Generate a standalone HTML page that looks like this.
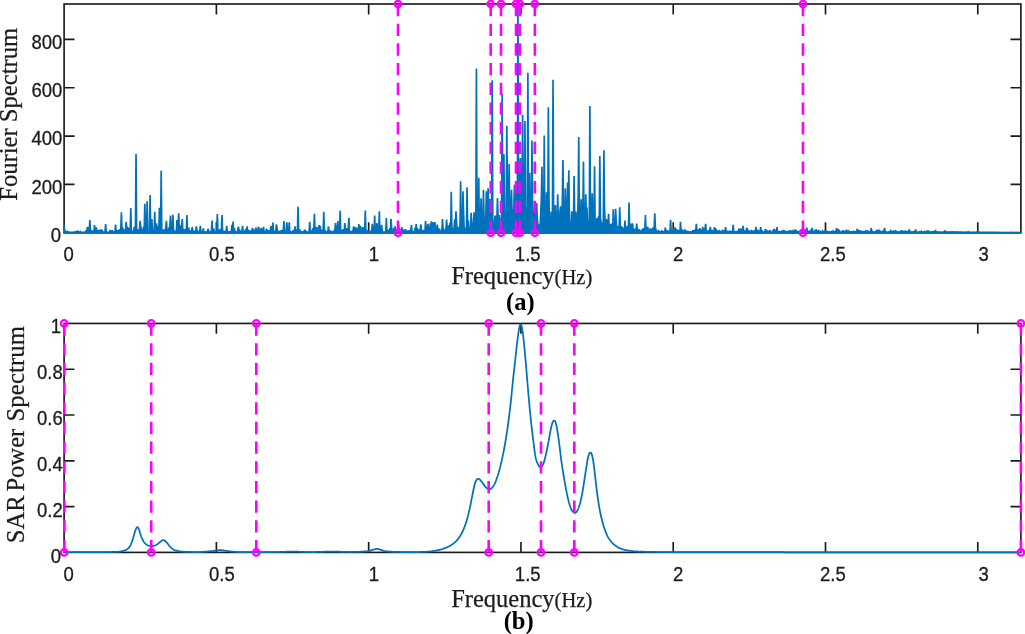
<!DOCTYPE html>
<html lang="en"><head><meta charset="utf-8"><title>Fourier and SAR Power Spectrum</title>
<style>html,body{margin:0;padding:0;background:#fff;overflow:hidden}svg{display:block}</style></head>
<body>
<svg width="1025" height="634" viewBox="0 0 1025 634">
<rect x="0" y="0" width="1025" height="634" fill="#fff"/>
<rect x="64.1" y="4.0" width="956.80" height="228.75" fill="none" stroke="#1b1b1b" stroke-width="1.65"/>
<path d="M216.38,232.75v-10.4M216.38,4.0v10.4M368.66,232.75v-10.4M368.66,4.0v10.4M520.94,232.75v-10.4M520.94,4.0v10.4M673.22,232.75v-10.4M673.22,4.0v10.4M825.50,232.75v-10.4M825.50,4.0v10.4M977.78,232.75v-10.4M977.78,4.0v10.4M64.1,184.42h10.4M1020.9,184.42h-10.4M64.1,136.08h10.4M1020.9,136.08h-10.4M64.1,87.75h10.4M1020.9,87.75h-10.4M64.1,39.41h10.4M1020.9,39.41h-10.4" stroke="#1b1b1b" stroke-width="1.65" fill="none"/>
<polygon points="64.1,232.75 64.10,224.75 64.68,231.92 65.27,232.67 65.85,231.95 66.44,232.69 67.02,230.73 67.61,232.70 68.19,232.54 68.78,232.05 69.36,232.18 69.95,232.66 70.53,232.67 71.12,232.63 71.70,232.62 72.29,232.57 72.87,232.67 73.46,232.48 74.04,232.63 74.63,232.66 75.21,231.74 75.80,232.21 76.38,232.21 76.97,231.49 77.55,232.62 78.14,230.84 78.72,231.92 79.31,232.63 79.89,232.58 80.48,231.81 81.06,232.66 81.65,232.63 82.23,232.54 82.81,232.57 83.40,232.47 83.98,232.63 84.57,232.50 85.15,232.58 85.74,231.37 86.32,232.14 86.91,229.91 87.49,226.95 88.08,232.28 88.66,232.19 89.25,231.41 89.83,220.05 90.42,232.53 91.00,232.37 91.59,229.82 92.17,232.54 92.76,231.00 93.34,232.37 93.93,232.55 94.51,224.95 95.10,232.39 95.68,232.20 96.27,227.42 96.85,230.42 97.44,232.29 98.02,230.30 98.61,232.36 99.19,231.24 99.78,232.03 100.36,230.05 100.94,230.04 101.53,232.53 102.11,229.67 102.70,232.31 103.28,232.30 103.87,232.41 104.45,232.23 105.04,232.18 105.62,223.95 106.21,232.44 106.79,232.13 107.38,232.36 107.96,232.34 108.55,232.49 109.13,232.46 109.72,232.02 110.30,230.03 110.89,232.49 111.47,232.13 112.06,230.41 112.64,231.61 113.23,232.20 113.81,232.14 114.40,232.29 114.98,231.21 115.57,224.68 116.15,232.22 116.74,231.62 117.32,230.94 117.91,231.28 118.49,232.34 119.08,229.55 119.66,231.00 120.24,232.21 120.83,227.67 121.41,212.25 122.00,231.78 122.58,227.08 123.17,231.35 123.75,231.69 124.34,230.27 124.92,230.43 125.51,231.64 126.09,221.95 126.68,227.35 127.26,226.80 127.85,231.86 128.43,227.56 129.02,231.92 129.60,230.77 130.19,230.87 130.77,207.95 131.36,231.36 131.94,231.62 132.53,231.91 133.11,231.26 133.70,230.94 134.28,226.80 134.87,228.25 135.45,229.77 136.04,153.75 136.62,231.44 137.21,231.75 137.79,231.47 138.37,229.62 138.96,230.82 139.54,228.46 140.13,220.75 140.71,226.75 141.30,228.62 141.88,230.99 142.47,230.37 143.05,230.90 143.64,226.61 144.22,230.56 144.81,203.85 145.39,228.44 145.98,230.79 146.56,231.37 147.15,201.15 147.73,231.83 148.32,231.47 148.90,231.64 149.49,231.04 150.07,195.05 150.66,228.95 151.24,231.18 151.83,219.05 152.41,230.53 153.00,230.97 153.58,230.92 154.17,231.44 154.75,211.75 155.34,231.71 155.92,231.83 156.50,223.28 157.09,231.40 157.67,231.68 158.26,226.27 158.84,231.47 159.43,207.75 160.01,222.83 160.60,231.74 161.18,170.75 161.77,231.84 162.35,231.59 162.94,231.40 163.52,229.45 164.11,231.92 164.69,231.64 165.28,230.48 165.86,226.75 166.45,220.75 167.03,231.75 167.62,230.11 168.20,230.80 168.79,228.68 169.37,228.86 169.96,224.15 170.54,215.55 171.13,230.15 171.71,231.90 172.30,231.88 172.88,214.75 173.47,230.09 174.05,230.65 174.63,231.90 175.22,231.51 175.80,231.75 176.39,231.23 176.97,220.05 177.56,231.47 178.14,223.00 178.73,213.25 179.31,231.62 179.90,225.44 180.48,231.34 181.07,231.78 181.65,225.90 182.24,219.05 182.82,230.60 183.41,230.28 183.99,231.10 184.58,229.21 185.16,230.28 185.75,231.83 186.33,231.56 186.92,215.15 187.50,231.12 188.09,231.23 188.67,227.74 189.26,231.29 189.84,231.73 190.43,231.47 191.01,230.93 191.60,231.97 192.18,227.00 192.77,230.55 193.35,231.78 193.93,232.23 194.52,230.68 195.10,232.18 195.69,232.08 196.27,226.45 196.86,229.60 197.44,232.04 198.03,232.30 198.61,231.25 199.20,232.33 199.78,230.82 200.37,225.85 200.95,232.31 201.54,231.64 202.12,232.13 202.71,232.05 203.29,228.43 203.88,232.42 204.46,232.12 205.05,232.38 205.63,232.13 206.22,231.90 206.80,232.25 207.39,232.32 207.97,228.81 208.56,230.27 209.14,232.35 209.73,232.28 210.31,232.23 210.90,232.39 211.48,229.64 212.06,220.45 212.65,232.27 213.23,231.22 213.82,228.72 214.40,232.35 214.99,232.39 215.57,232.38 216.16,232.41 216.74,232.27 217.33,214.15 217.91,230.77 218.50,231.95 219.08,229.79 219.67,230.58 220.25,232.19 220.84,228.78 221.42,232.31 222.01,215.15 222.59,232.35 223.18,232.31 223.76,230.96 224.35,232.13 224.93,232.19 225.52,231.57 226.10,232.38 226.69,225.75 227.27,231.66 227.86,232.32 228.44,231.95 229.03,231.77 229.61,231.69 230.19,232.06 230.78,232.39 231.36,231.05 231.95,224.98 232.53,228.16 233.12,221.45 233.70,232.12 234.29,228.24 234.87,231.17 235.46,232.00 236.04,232.28 236.63,232.18 237.21,232.37 237.80,229.75 238.38,226.75 238.97,230.11 239.55,230.08 240.14,231.18 240.72,231.46 241.31,232.21 241.89,232.28 242.48,225.75 243.06,231.84 243.65,232.23 244.23,232.32 244.82,231.17 245.40,230.06 245.99,230.82 246.57,231.94 247.16,226.45 247.74,232.24 248.32,230.67 248.91,230.69 249.49,232.30 250.08,232.25 250.66,231.35 251.25,232.26 251.83,232.30 252.42,227.75 253.00,232.15 253.59,229.35 254.17,232.25 254.76,231.83 255.34,230.97 255.93,227.70 256.51,232.32 257.10,230.55 257.68,232.39 258.27,227.55 258.85,227.85 259.44,231.63 260.02,232.29 260.61,232.34 261.19,227.88 261.78,230.27 262.36,231.84 262.95,232.24 263.53,226.75 264.12,232.39 264.70,231.87 265.29,232.27 265.87,232.37 266.46,228.93 267.04,229.93 267.62,232.26 268.21,231.76 268.79,230.43 269.38,232.08 269.96,232.30 270.55,228.62 271.13,226.03 271.72,231.89 272.30,232.22 272.89,222.55 273.47,232.04 274.06,230.80 274.64,232.32 275.23,230.84 275.81,231.83 276.40,224.33 276.98,227.85 277.57,232.38 278.15,232.11 278.74,231.57 279.32,232.17 279.91,232.39 280.49,230.52 281.08,232.28 281.66,230.81 282.25,230.54 282.83,231.65 283.42,228.77 284.00,221.05 284.59,231.67 285.17,231.60 285.75,232.19 286.34,232.07 286.92,222.35 287.51,232.32 288.09,232.15 288.68,232.37 289.26,222.35 289.85,232.35 290.43,232.18 291.02,232.07 291.60,232.21 292.19,231.76 292.77,232.19 293.36,229.95 293.94,232.33 294.53,232.08 295.11,226.44 295.70,231.62 296.28,230.92 296.87,231.76 297.45,231.91 298.04,206.75 298.62,231.53 299.21,232.00 299.79,229.44 300.38,231.70 300.96,231.89 301.55,232.25 302.13,231.93 302.72,232.24 303.30,231.95 303.88,232.16 304.47,230.42 305.05,230.28 305.64,232.38 306.22,231.68 306.81,232.16 307.39,232.25 307.98,232.16 308.56,231.91 309.15,232.11 309.73,221.75 310.32,231.98 310.90,232.05 311.49,231.51 312.07,230.93 312.66,229.17 313.24,229.40 313.83,228.58 314.41,213.75 315.00,232.26 315.58,232.33 316.17,232.20 316.75,226.91 317.34,232.31 317.92,231.96 318.51,231.55 319.09,224.95 319.68,232.06 320.26,225.90 320.85,231.76 321.43,232.13 322.01,231.69 322.60,229.75 323.18,232.20 323.77,211.75 324.35,231.79 324.94,230.03 325.52,231.92 326.11,232.08 326.69,232.13 327.28,231.67 327.86,232.30 328.45,226.45 329.03,231.94 329.62,232.08 330.20,230.63 330.79,232.03 331.37,231.57 331.96,232.14 332.54,232.37 333.13,231.99 333.71,232.29 334.30,230.04 334.88,231.18 335.47,222.95 336.05,229.84 336.64,229.96 337.22,231.51 337.81,221.05 338.39,229.96 338.98,232.29 339.56,232.22 340.14,210.75 340.73,232.17 341.31,231.63 341.90,231.93 342.48,230.17 343.07,229.93 343.65,232.21 344.24,232.06 344.82,222.95 345.41,230.99 345.99,232.31 346.58,228.15 347.16,232.28 347.75,231.66 348.33,228.72 348.92,217.75 349.50,232.05 350.09,231.65 350.67,232.24 351.26,231.64 351.84,232.04 352.43,231.42 353.01,231.77 353.60,226.45 354.18,229.80 354.77,231.75 355.35,227.26 355.94,230.77 356.52,227.73 357.11,232.21 357.69,229.39 358.28,231.00 358.86,224.18 359.44,232.15 360.03,231.99 360.61,225.85 361.20,232.06 361.78,232.24 362.37,230.35 362.95,227.19 363.54,232.23 364.12,232.29 364.71,231.64 365.29,210.45 365.88,231.84 366.46,232.24 367.05,230.97 367.63,231.58 368.22,231.34 368.80,231.75 369.39,232.17 369.97,230.88 370.56,232.26 371.14,232.17 371.73,231.69 372.31,223.76 372.90,232.21 373.48,232.23 374.07,232.26 374.65,215.55 375.24,229.98 375.82,230.51 376.41,230.23 376.99,222.95 377.57,232.24 378.16,229.13 378.74,232.34 379.33,211.25 379.91,232.30 380.50,232.28 381.08,230.62 381.67,224.95 382.25,232.35 382.84,232.33 383.42,232.21 384.01,231.95 384.59,232.37 385.18,232.08 385.76,232.19 386.35,218.05 386.93,231.69 387.52,232.30 388.10,232.18 388.69,230.06 389.27,231.94 389.86,228.19 390.44,232.19 391.03,218.75 391.61,228.24 392.20,232.26 392.78,231.02 393.37,231.68 393.95,227.94 394.54,232.00 395.12,226.45 395.70,231.96 396.29,232.18 396.87,232.31 397.46,231.99 398.04,232.36 398.63,224.78 399.21,232.01 399.80,232.16 400.38,232.22 400.97,232.23 401.55,227.63 402.14,228.41 402.72,232.20 403.31,231.91 403.89,230.87 404.48,229.71 405.06,232.15 405.65,229.27 406.23,232.20 406.82,232.32 407.40,232.27 407.99,230.43 408.57,231.96 409.16,230.41 409.74,232.26 410.33,231.88 410.91,228.85 411.50,224.95 412.08,232.23 412.67,232.32 413.25,231.97 413.83,231.80 414.42,232.21 415.00,227.93 415.59,230.84 416.17,223.95 416.76,231.99 417.34,228.05 417.93,231.87 418.51,231.86 419.10,230.01 419.68,229.95 420.27,230.18 420.85,224.35 421.44,230.61 422.02,231.75 422.61,232.04 423.19,229.93 423.78,231.81 424.36,232.02 424.95,232.17 425.53,221.05 426.12,230.83 426.70,230.14 427.29,228.35 427.87,223.95 428.46,229.23 429.04,228.37 429.63,230.88 430.21,223.55 430.80,231.95 431.38,221.27 431.97,230.93 432.55,232.08 433.13,222.28 433.72,231.57 434.30,231.86 434.89,221.95 435.47,231.46 436.06,230.78 436.64,231.52 437.23,224.55 437.81,228.65 438.40,231.93 438.98,229.16 439.57,229.29 440.15,231.44 440.74,231.64 441.32,231.67 441.91,230.32 442.49,219.05 443.08,229.47 443.66,229.25 444.25,231.11 444.83,231.42 445.42,231.31 446.00,228.78 446.59,219.65 447.17,228.73 447.76,227.85 448.34,225.28 448.93,231.47 449.51,227.05 450.10,222.74 450.68,230.50 451.26,191.75 451.85,227.20 452.43,231.03 453.02,230.09 453.60,231.01 454.19,226.00 454.77,219.21 455.36,230.39 455.94,211.25 456.53,222.00 457.11,230.29 457.70,230.76 458.28,228.58 458.87,227.52 459.45,228.06 460.04,225.02 460.62,181.15 461.21,229.25 461.79,228.81 462.38,229.16 462.96,191.25 463.55,212.00 464.13,228.83 464.72,229.38 465.30,228.83 465.89,230.29 466.47,229.09 467.06,187.35 467.64,228.57 468.23,220.47 468.81,227.63 469.39,228.51 469.98,228.21 470.56,228.81 471.15,212.75 471.73,224.77 472.32,229.34 472.90,224.35 473.49,222.86 474.07,212.28 474.66,226.72 475.24,223.19 475.83,225.47 476.41,68.45 477.00,223.87 477.58,227.19 478.17,228.44 478.75,177.75 479.34,226.84 479.92,226.68 480.51,218.77 481.09,198.15 481.68,227.22 482.26,226.77 482.85,225.99 483.43,189.75 484.02,217.32 484.60,226.77 485.19,221.99 485.77,220.81 486.36,191.24 486.94,226.55 487.52,219.74 488.11,188.35 488.69,210.55 489.28,223.80 489.86,199.14 490.45,220.20 491.03,218.38 491.62,215.21 492.20,80.15 492.79,220.01 493.37,224.98 493.96,223.69 494.54,221.73 495.13,215.53 495.71,222.88 496.30,217.34 496.88,218.94 497.47,198.15 498.05,216.39 498.64,223.79 499.22,215.14 499.81,219.74 500.39,218.32 500.98,221.79 501.56,220.70 502.15,93.85 502.73,219.04 503.32,193.45 503.90,154.15 504.49,215.48 505.07,217.68 505.66,220.44 506.24,212.14 506.82,125.75 507.41,200.88 507.99,220.24 508.58,203.40 509.16,163.95 509.75,218.83 510.33,204.39 510.92,211.25 511.50,189.75 512.09,214.95 512.67,222.29 513.26,209.72 513.84,209.54 514.43,184.85 515.01,218.57 515.60,190.24 516.18,210.58 516.77,221.80 517.35,211.74 517.94,4.00 518.52,218.25 519.11,201.85 519.69,211.36 520.28,158.05 520.86,195.40 521.45,182.05 522.03,181.87 522.62,114.75 523.20,202.97 523.79,220.33 524.37,214.90 524.95,120.95 525.54,214.79 526.12,206.80 526.71,212.87 527.29,215.65 527.88,72.75 528.46,217.30 529.05,214.57 529.63,172.75 530.22,213.47 530.80,219.12 531.39,220.02 531.97,140.45 532.56,200.10 533.14,215.47 533.73,211.75 534.31,210.80 534.90,218.94 535.48,220.30 536.07,220.89 536.65,203.05 537.24,217.90 537.82,225.41 538.41,224.85 538.99,226.17 539.58,225.43 540.16,226.62 540.75,212.86 541.33,199.80 541.92,166.85 542.50,220.93 543.08,225.55 543.67,222.62 544.25,135.55 544.84,226.17 545.42,226.67 546.01,222.96 546.59,192.25 547.18,226.54 547.76,224.48 548.35,107.15 548.93,196.75 549.52,226.29 550.10,224.61 550.69,225.41 551.27,211.57 551.86,216.79 552.44,221.52 553.03,79.75 553.61,215.74 554.20,224.31 554.78,219.68 555.37,204.98 555.95,221.74 556.54,220.51 557.12,224.67 557.71,194.25 558.29,222.20 558.88,220.29 559.46,224.62 560.05,210.29 560.63,206.28 561.21,220.89 561.80,224.70 562.38,199.30 562.97,160.05 563.55,224.31 564.14,217.32 564.72,224.45 565.31,188.35 565.89,210.55 566.48,218.62 567.06,217.62 567.65,182.45 568.23,220.13 568.82,170.15 569.40,221.99 569.99,223.20 570.57,222.21 571.16,224.03 571.74,211.22 572.33,219.40 572.91,218.17 573.50,220.67 574.08,176.05 574.67,217.26 575.25,221.80 575.84,211.17 576.42,224.62 577.01,220.79 577.59,221.71 578.18,197.02 578.76,136.95 579.34,225.79 579.93,217.42 580.51,225.17 581.10,199.15 581.68,215.95 582.27,221.39 582.85,214.58 583.44,161.55 584.02,223.04 584.61,225.93 585.19,222.17 585.78,194.25 586.36,220.12 586.95,207.60 587.53,224.63 588.12,222.68 588.70,219.76 589.29,223.43 589.87,106.05 590.46,218.24 591.04,221.81 591.63,213.00 592.21,193.25 592.80,221.48 593.38,225.65 593.97,224.19 594.55,166.25 595.14,224.29 595.72,224.57 596.31,226.29 596.89,218.93 597.48,218.38 598.06,227.25 598.64,216.07 599.23,222.93 599.81,156.05 600.40,217.91 600.98,221.68 601.57,226.47 602.15,225.24 602.74,224.38 603.32,221.33 603.91,150.25 604.49,208.61 605.08,219.87 605.66,227.78 606.25,218.99 606.83,226.97 607.42,219.75 608.00,224.77 608.59,213.75 609.17,226.83 609.76,223.95 610.34,229.80 610.93,228.38 611.51,223.55 612.10,228.89 612.68,229.87 613.27,209.25 613.85,225.82 614.44,229.38 615.02,228.60 615.61,208.85 616.19,220.80 616.77,229.77 617.36,229.30 617.94,225.92 618.53,229.44 619.11,229.67 619.70,207.35 620.28,226.20 620.87,226.90 621.45,226.81 622.04,227.32 622.62,229.45 623.21,230.45 623.79,227.79 624.38,231.23 624.96,220.65 625.55,229.87 626.13,230.59 626.72,229.65 627.30,225.99 627.89,230.07 628.47,230.65 629.06,202.45 629.64,230.66 630.23,230.37 630.81,229.99 631.40,223.48 631.98,231.09 632.57,223.26 633.15,229.30 633.74,229.53 634.32,231.11 634.90,228.59 635.49,230.67 636.07,231.72 636.66,223.55 637.24,228.86 637.83,229.87 638.41,231.04 639.00,229.89 639.58,230.36 640.17,231.84 640.75,231.89 641.34,231.06 641.92,231.67 642.51,228.55 643.09,230.61 643.68,230.09 644.26,227.86 644.85,230.10 645.43,215.15 646.02,231.40 646.60,230.44 647.19,228.57 647.77,226.87 648.36,231.49 648.94,231.90 649.53,231.75 650.11,228.30 650.70,231.92 651.28,231.45 651.87,231.75 652.45,227.64 653.03,229.62 653.62,231.96 654.20,227.37 654.79,213.25 655.37,227.75 655.96,229.80 656.54,232.13 657.13,231.87 657.71,232.04 658.30,230.69 658.88,230.97 659.47,231.60 660.05,231.89 660.64,232.15 661.22,231.44 661.81,230.77 662.39,231.88 662.98,231.90 663.56,231.77 664.15,231.90 664.73,231.75 665.32,227.66 665.90,231.78 666.49,231.88 667.07,230.23 667.66,232.12 668.24,231.55 668.83,231.50 669.41,232.11 670.00,231.90 670.58,219.75 671.17,231.88 671.75,231.97 672.33,231.66 672.92,231.26 673.50,229.54 674.09,227.88 674.67,231.76 675.26,227.40 675.84,231.82 676.43,231.56 677.01,230.14 677.60,230.33 678.18,230.62 678.77,231.67 679.35,230.68 679.94,232.20 680.52,221.75 681.11,231.14 681.69,229.08 682.28,232.16 682.86,230.58 683.45,232.22 684.03,231.87 684.62,229.51 685.20,230.58 685.79,230.97 686.37,231.65 686.96,232.01 687.54,231.54 688.13,232.24 688.71,231.80 689.30,232.00 689.88,232.19 690.46,231.94 691.05,232.01 691.63,231.93 692.22,232.20 692.80,230.37 693.39,232.23 693.97,230.90 694.56,230.51 695.14,232.10 695.73,232.18 696.31,223.75 696.90,231.87 697.48,231.01 698.07,229.37 698.65,231.55 699.24,232.19 699.82,228.11 700.41,231.26 700.99,231.02 701.58,230.01 702.16,231.14 702.75,226.83 703.33,231.75 703.92,230.71 704.50,231.42 705.09,228.25 705.67,223.75 706.26,232.14 706.84,231.92 707.43,232.04 708.01,231.79 708.59,229.94 709.18,232.25 709.76,230.94 710.35,226.76 710.93,231.88 711.52,231.54 712.10,230.82 712.69,231.80 713.27,232.17 713.86,231.56 714.44,227.93 715.03,228.18 715.61,231.50 716.20,228.89 716.78,231.67 717.37,231.67 717.95,231.97 718.54,230.43 719.12,231.86 719.71,230.95 720.29,232.03 720.88,231.74 721.46,231.65 722.05,231.90 722.63,229.81 723.22,231.42 723.80,231.71 724.39,231.17 724.97,231.76 725.56,227.21 726.14,231.06 726.72,231.77 727.31,232.17 727.89,231.50 728.48,231.59 729.06,231.47 729.65,231.62 730.23,232.04 730.82,231.47 731.40,232.12 731.99,231.84 732.57,231.81 733.16,224.75 733.74,232.10 734.33,231.84 734.91,231.87 735.50,231.84 736.08,232.14 736.67,231.49 737.25,231.44 737.84,231.97 738.42,231.71 739.01,228.61 739.59,232.16 740.18,230.25 740.76,228.50 741.35,231.52 741.93,231.33 742.52,232.01 743.10,225.75 743.69,231.80 744.27,232.22 744.86,231.37 745.44,232.18 746.02,232.17 746.61,228.48 747.19,228.58 747.78,232.10 748.36,231.64 748.95,230.95 749.53,232.25 750.12,231.82 750.70,231.37 751.29,230.77 751.87,231.85 752.46,231.14 753.04,231.25 753.63,231.18 754.21,232.18 754.80,231.20 755.38,232.20 755.97,226.94 756.55,232.08 757.14,232.12 757.72,229.78 758.31,232.18 758.89,231.71 759.48,231.37 760.06,232.26 760.65,227.00 761.23,231.63 761.82,230.12 762.40,232.06 762.99,232.24 763.57,232.23 764.15,232.00 764.74,232.26 765.32,229.16 765.91,231.43 766.49,231.76 767.08,230.96 767.66,232.26 768.25,232.24 768.83,231.51 769.42,232.02 770.00,230.28 770.59,232.19 771.17,232.00 771.76,232.21 772.34,232.01 772.93,232.03 773.51,229.14 774.10,230.78 774.68,229.98 775.27,230.88 775.85,232.21 776.44,231.35 777.02,227.19 777.61,232.27 778.19,231.88 778.78,232.11 779.36,231.65 779.95,232.08 780.53,231.66 781.12,231.42 781.70,231.34 782.28,231.95 782.87,232.19 783.45,229.95 784.04,231.59 784.62,231.20 785.21,231.99 785.79,232.18 786.38,231.06 786.96,232.22 787.55,231.05 788.13,232.10 788.72,231.72 789.30,230.94 789.89,231.72 790.47,232.09 791.06,230.60 791.64,231.71 792.23,232.22 792.81,231.02 793.40,231.67 793.98,232.10 794.57,229.67 795.15,230.78 795.74,232.23 796.32,230.00 796.91,231.80 797.49,232.09 798.08,231.92 798.66,231.87 799.25,231.95 799.83,231.43 800.41,232.03 801.00,232.27 801.58,230.79 802.17,232.04 802.75,231.58 803.34,232.16 803.92,231.94 804.51,231.43 805.09,232.20 805.68,231.49 806.26,231.99 806.85,227.50 807.43,232.22 808.02,232.06 808.60,230.90 809.19,231.92 809.77,231.48 810.36,232.18 810.94,229.71 811.53,231.42 812.11,227.91 812.70,231.43 813.28,232.27 813.87,232.10 814.45,231.16 815.04,232.22 815.62,230.33 816.21,229.97 816.79,230.89 817.38,231.97 817.96,231.71 818.54,230.06 819.13,231.72 819.71,232.17 820.30,231.51 820.88,231.86 821.47,232.04 822.05,231.77 822.64,230.87 823.22,231.93 823.81,232.09 824.39,232.24 824.98,230.97 825.56,231.54 826.15,231.57 826.73,232.16 827.32,231.42 827.90,231.72 828.49,231.99 829.07,232.26 829.66,231.85 830.24,232.18 830.83,232.16 831.41,232.23 832.00,231.37 832.58,231.85 833.17,230.56 833.75,232.18 834.34,232.03 834.92,231.77 835.51,231.93 836.09,230.77 836.68,228.10 837.26,232.25 837.84,231.62 838.43,229.30 839.01,231.35 839.60,231.27 840.18,232.04 840.77,232.01 841.35,232.14 841.94,232.23 842.52,231.09 843.11,231.69 843.69,231.08 844.28,231.45 844.86,232.29 845.45,230.75 846.03,231.89 846.62,229.59 847.20,231.85 847.79,231.57 848.37,232.27 848.96,231.27 849.54,232.24 850.13,232.09 850.71,232.29 851.30,231.69 851.88,231.75 852.47,232.05 853.05,231.84 853.64,231.32 854.22,232.03 854.81,231.70 855.39,231.63 855.97,232.16 856.56,231.03 857.14,229.59 857.73,230.02 858.31,232.05 858.90,231.19 859.48,231.84 860.07,230.20 860.65,232.08 861.24,232.09 861.82,231.15 862.41,232.25 862.99,231.96 863.58,231.57 864.16,231.95 864.75,231.56 865.33,232.06 865.92,230.82 866.50,230.94 867.09,232.13 867.67,230.61 868.26,232.26 868.84,232.08 869.43,231.93 870.01,231.58 870.60,232.20 871.18,228.01 871.77,231.03 872.35,231.60 872.94,232.21 873.52,232.04 874.10,232.18 874.69,232.28 875.27,232.01 875.86,232.15 876.44,229.93 877.03,232.11 877.61,232.12 878.20,229.74 878.78,232.16 879.37,229.70 879.95,231.54 880.54,231.83 881.12,232.04 881.71,231.67 882.29,231.35 882.88,232.28 883.46,231.37 884.05,230.43 884.63,228.01 885.22,231.96 885.80,232.24 886.39,232.06 886.97,232.32 887.56,232.33 888.14,231.93 888.73,232.15 889.31,232.17 889.90,232.27 890.48,230.78 891.07,231.32 891.65,231.85 892.23,230.79 892.82,232.29 893.40,231.71 893.99,231.12 894.57,231.98 895.16,232.07 895.74,231.05 896.33,231.87 896.91,232.17 897.50,231.79 898.08,231.97 898.67,232.27 899.25,232.26 899.84,232.29 900.42,231.47 901.01,230.96 901.59,231.42 902.18,230.97 902.76,231.24 903.35,232.09 903.93,231.94 904.52,232.20 905.10,231.20 905.69,231.82 906.27,231.50 906.86,231.91 907.44,231.70 908.03,232.14 908.61,231.18 909.20,230.07 909.78,230.73 910.37,232.21 910.95,232.30 911.53,232.21 912.12,232.26 912.70,232.00 913.29,231.60 913.87,231.85 914.46,231.63 915.04,231.50 915.63,229.43 916.21,231.96 916.80,232.32 917.38,232.29 917.97,232.24 918.55,232.34 919.14,231.87 919.72,231.54 920.31,232.41 920.89,231.88 921.48,231.32 922.06,232.10 922.65,232.30 923.23,232.35 923.82,232.08 924.40,231.52 924.99,231.93 925.57,231.83 926.16,231.41 926.74,231.89 927.33,231.38 927.91,232.08 928.50,230.59 929.08,231.50 929.66,232.35 930.25,232.35 930.83,232.41 931.42,231.77 932.00,232.10 932.59,231.68 933.17,232.07 933.76,231.62 934.34,232.44 934.93,232.44 935.51,229.83 936.10,232.47 936.68,232.37 937.27,232.16 937.85,232.11 938.44,232.06 939.02,232.28 939.61,232.07 940.19,232.35 940.78,232.37 941.36,232.24 941.95,232.26 942.53,232.47 943.12,232.21 943.70,232.18 944.29,231.48 944.87,230.95 945.46,232.42 946.04,232.40 946.63,231.91 947.21,231.94 947.79,232.24 948.38,232.44 948.96,232.32 949.55,232.14 950.13,232.04 950.72,231.75 951.30,232.40 951.89,232.46 952.47,232.09 953.06,232.49 953.64,231.88 954.23,231.95 954.81,232.40 955.40,232.49 955.98,232.06 956.57,232.56 957.15,231.84 957.74,232.16 958.32,232.54 958.91,232.52 959.49,232.16 960.08,232.25 960.66,232.57 961.25,232.08 961.83,232.23 962.42,232.49 963.00,232.50 963.59,232.28 964.17,232.49 964.76,232.56 965.34,232.54 965.92,232.49 966.51,232.22 967.09,232.44 967.68,232.43 968.26,231.76 968.85,232.44 969.43,232.49 970.02,232.38 970.60,232.43 971.19,232.54 971.77,232.57 972.36,232.59 972.94,232.60 973.53,232.37 974.11,232.46 974.70,232.56 975.28,232.53 975.87,232.53 976.45,232.61 977.04,232.04 977.62,232.54 978.21,232.33 978.79,232.67 979.38,232.29 979.96,232.62 980.55,232.66 981.13,232.66 981.72,232.67 982.30,232.69 982.89,232.52 983.47,232.67 984.06,232.51 984.64,232.63 985.22,232.63 985.81,232.45 986.39,232.65 986.98,232.66 987.56,232.70 988.15,232.70 988.73,232.70 989.32,232.70 989.90,232.70 990.49,232.62 991.07,232.65 991.66,232.43 992.24,232.71 992.83,232.62 993.41,232.71 994.00,232.68 994.58,232.68 995.17,232.71 995.75,232.71 996.34,232.71 996.92,232.68 997.51,232.71 998.09,232.68 998.68,232.72 999.26,232.73 999.85,232.73 1000.43,232.73 1001.02,232.73 1001.60,232.73 1002.19,232.73 1002.77,232.73 1003.35,232.74 1003.94,232.73 1004.52,232.74 1005.11,232.74 1005.69,232.74 1006.28,232.74 1006.86,232.69 1007.45,232.73 1008.03,232.73 1008.62,232.74 1009.20,232.74 1009.79,232.73 1010.37,232.72 1010.96,232.72 1011.54,232.70 1012.13,232.74 1012.71,232.75 1013.30,232.75 1013.88,232.73 1014.47,232.75 1015.05,232.73 1015.64,232.74 1016.22,232.72 1016.81,232.75 1017.39,232.75 1017.98,232.75 1018.56,232.75 1019.15,232.75 1019.73,232.75 1020.32,232.75 1020.90,232.75 1020.9,232.75" fill="#0072BD" stroke="#0072BD" stroke-width="1.7" stroke-linejoin="miter" stroke-miterlimit="2"/>
<path d="M64.1,232.75H1020.9" stroke="#0072BD" stroke-width="2.1" fill="none"/>
<path d="M398.00,4.0V232.75M490.70,4.0V232.75M501.00,4.0V232.75M516.00,4.0V232.75M519.90,4.0V232.75M534.85,4.0V232.75M802.95,4.0V232.75" stroke="#FF00FF" stroke-width="2.6" stroke-dasharray="12.3 7.38" fill="none"/>
<circle cx="398.00" cy="4.0" r="3.25" fill="none" stroke="#FF00FF" stroke-width="2.25"/>
<circle cx="398.00" cy="232.75" r="3.25" fill="none" stroke="#FF00FF" stroke-width="2.25"/>
<circle cx="490.70" cy="4.0" r="3.25" fill="none" stroke="#FF00FF" stroke-width="2.25"/>
<circle cx="490.70" cy="232.75" r="3.25" fill="none" stroke="#FF00FF" stroke-width="2.25"/>
<circle cx="501.00" cy="4.0" r="3.25" fill="none" stroke="#FF00FF" stroke-width="2.25"/>
<circle cx="501.00" cy="232.75" r="3.25" fill="none" stroke="#FF00FF" stroke-width="2.25"/>
<circle cx="516.00" cy="4.0" r="3.25" fill="none" stroke="#FF00FF" stroke-width="2.25"/>
<circle cx="516.00" cy="232.75" r="3.25" fill="none" stroke="#FF00FF" stroke-width="2.25"/>
<circle cx="519.90" cy="4.0" r="3.25" fill="none" stroke="#FF00FF" stroke-width="2.25"/>
<circle cx="519.90" cy="232.75" r="3.25" fill="none" stroke="#FF00FF" stroke-width="2.25"/>
<circle cx="534.85" cy="4.0" r="3.25" fill="none" stroke="#FF00FF" stroke-width="2.25"/>
<circle cx="534.85" cy="232.75" r="3.25" fill="none" stroke="#FF00FF" stroke-width="2.25"/>
<circle cx="802.95" cy="4.0" r="3.25" fill="none" stroke="#FF00FF" stroke-width="2.25"/>
<circle cx="802.95" cy="232.75" r="3.25" fill="none" stroke="#FF00FF" stroke-width="2.25"/>
<text transform="translate(63.6,261) scale(0.941,1)" font-family="'Liberation Sans', sans-serif" font-size="19.7" fill="#1c1c1c" stroke="#1c1c1c" stroke-width="0.3">0</text>
<text transform="translate(209.0,261) scale(0.941,1)" font-family="'Liberation Sans', sans-serif" font-size="19.7" fill="#1c1c1c" stroke="#1c1c1c" stroke-width="0.3">0.5</text>
<text transform="translate(368.8,261) scale(0.941,1)" font-family="'Liberation Sans', sans-serif" font-size="19.7" fill="#1c1c1c" stroke="#1c1c1c" stroke-width="0.3">1</text>
<text transform="translate(514.85,261) scale(0.941,1)" font-family="'Liberation Sans', sans-serif" font-size="19.7" fill="#1c1c1c" stroke="#1c1c1c" stroke-width="0.3">1.5</text>
<text transform="translate(672.9,261) scale(0.941,1)" font-family="'Liberation Sans', sans-serif" font-size="19.7" fill="#1c1c1c" stroke="#1c1c1c" stroke-width="0.3">2</text>
<text transform="translate(820.0,261) scale(0.941,1)" font-family="'Liberation Sans', sans-serif" font-size="19.7" fill="#1c1c1c" stroke="#1c1c1c" stroke-width="0.3">2.5</text>
<text transform="translate(978.4,261) scale(0.941,1)" font-family="'Liberation Sans', sans-serif" font-size="19.7" fill="#1c1c1c" stroke="#1c1c1c" stroke-width="0.3">3</text>
<text transform="translate(61.10,242) scale(0.941,1)" text-anchor="end" font-family="'Liberation Sans', sans-serif" font-size="19.7" fill="#1c1c1c" stroke="#1c1c1c" stroke-width="0.3">0</text>
<text transform="translate(62.30,194) scale(0.941,1)" text-anchor="end" font-family="'Liberation Sans', sans-serif" font-size="19.7" fill="#1c1c1c" stroke="#1c1c1c" stroke-width="0.3">200</text>
<text transform="translate(62.30,145) scale(0.941,1)" text-anchor="end" font-family="'Liberation Sans', sans-serif" font-size="19.7" fill="#1c1c1c" stroke="#1c1c1c" stroke-width="0.3">400</text>
<text transform="translate(62.30,97) scale(0.941,1)" text-anchor="end" font-family="'Liberation Sans', sans-serif" font-size="19.7" fill="#1c1c1c" stroke="#1c1c1c" stroke-width="0.3">600</text>
<text transform="translate(62.30,49) scale(0.941,1)" text-anchor="end" font-family="'Liberation Sans', sans-serif" font-size="19.7" fill="#1c1c1c" stroke="#1c1c1c" stroke-width="0.3">800</text>
<rect x="64.1" y="323.45" width="956.80" height="228.95" fill="none" stroke="#1b1b1b" stroke-width="1.65"/>
<path d="M216.38,552.4v-10.4M216.38,323.45v10.4M368.66,552.4v-10.4M368.66,323.45v10.4M520.94,552.4v-10.4M520.94,323.45v10.4M673.22,552.4v-10.4M673.22,323.45v10.4M825.50,552.4v-10.4M825.50,323.45v10.4M977.78,552.4v-10.4M977.78,323.45v10.4M64.1,506.61h10.4M1020.9,506.61h-10.4M64.1,460.82h10.4M1020.9,460.82h-10.4M64.1,415.03h10.4M1020.9,415.03h-10.4M64.1,369.24h10.4M1020.9,369.24h-10.4" stroke="#1b1b1b" stroke-width="1.65" fill="none"/>
<polyline points="64.1,552.20 64.6,552.20 65.1,552.20 65.6,552.20 66.1,552.20 66.6,552.20 67.1,552.20 67.6,552.20 68.1,552.20 68.6,552.20 69.1,552.20 69.6,552.20 70.1,552.20 70.6,552.20 71.1,552.20 71.6,552.20 72.1,552.20 72.6,552.20 73.1,552.20 73.6,552.20 74.1,552.20 74.6,552.20 75.1,552.20 75.6,552.20 76.1,552.20 76.6,552.20 77.1,552.20 77.6,552.20 78.1,552.20 78.6,552.20 79.1,552.20 79.6,552.20 80.1,552.20 80.6,552.20 81.1,552.20 81.6,552.20 82.1,552.20 82.6,552.20 83.1,552.20 83.6,552.20 84.1,552.20 84.6,552.20 85.1,552.20 85.6,552.20 86.1,552.20 86.6,552.20 87.1,552.20 87.6,552.20 88.1,552.20 88.6,552.20 89.1,552.20 89.6,552.20 90.1,552.20 90.6,552.20 91.1,552.20 91.6,552.20 92.1,552.20 92.6,552.20 93.1,552.19 93.6,552.19 94.1,552.19 94.6,552.19 95.1,552.19 95.6,552.18 96.1,552.18 96.6,552.18 97.1,552.17 97.6,552.17 98.1,552.17 98.6,552.16 99.1,552.16 99.6,552.15 100.1,552.15 100.6,552.14 101.1,552.14 101.6,552.14 102.1,552.13 102.6,552.13 103.1,552.12 103.6,552.12 104.1,552.11 104.6,552.10 105.1,552.10 105.6,552.09 106.1,552.09 106.6,552.08 107.1,552.07 107.6,552.07 108.1,552.06 108.6,552.05 109.1,552.04 109.6,552.03 110.1,552.02 110.6,552.01 111.1,551.99 111.6,551.98 112.1,551.97 112.6,551.95 113.1,551.94 113.6,551.92 114.1,551.90 114.6,551.88 115.1,551.86 115.6,551.84 116.1,551.82 116.6,551.80 117.1,551.77 117.6,551.75 118.1,551.72 118.6,551.69 119.1,551.65 119.6,551.60 120.1,551.54 120.6,551.46 121.1,551.38 121.6,551.28 122.1,551.17 122.6,551.05 123.1,550.91 123.6,550.77 124.1,550.61 124.6,550.44 125.1,550.27 125.6,550.07 126.1,549.86 126.6,549.61 127.1,549.30 127.6,548.92 128.1,548.47 128.6,547.95 129.1,547.36 129.6,546.71 130.1,545.95 130.6,545.06 131.1,543.97 131.6,542.71 132.1,541.31 132.6,539.81 133.1,538.22 133.6,536.51 134.1,534.69 134.6,532.86 135.1,531.17 135.6,529.74 136.1,528.60 136.6,527.74 137.1,527.22 137.6,527.16 138.1,527.61 138.6,528.51 139.1,529.76 139.6,531.29 140.1,532.99 140.6,534.67 141.1,536.20 141.6,537.54 142.1,538.71 142.6,539.77 143.1,540.70 143.6,541.51 144.1,542.19 144.6,542.79 145.1,543.32 145.6,543.81 146.1,544.24 146.6,544.62 147.1,544.93 147.6,545.19 148.1,545.39 148.6,545.57 149.1,545.73 149.6,545.87 150.1,545.99 150.6,546.09 151.1,546.15 151.6,546.17 152.1,546.16 152.6,546.11 153.1,546.03 153.6,545.92 154.1,545.78 154.6,545.63 155.1,545.46 155.6,545.27 156.1,545.03 156.6,544.74 157.1,544.39 157.6,544.01 158.1,543.60 158.6,543.20 159.1,542.80 159.6,542.42 160.1,542.03 160.6,541.63 161.1,541.22 161.6,540.84 162.1,540.51 162.6,540.26 163.1,540.12 163.6,540.13 164.1,540.28 164.6,540.56 165.1,540.93 165.6,541.36 166.1,541.83 166.6,542.34 167.1,542.90 167.6,543.52 168.1,544.18 168.6,544.85 169.1,545.51 169.6,546.12 170.1,546.66 170.6,547.15 171.1,547.61 171.6,548.05 172.1,548.47 172.6,548.87 173.1,549.23 173.6,549.56 174.1,549.85 174.6,550.08 175.1,550.28 175.6,550.44 176.1,550.58 176.6,550.71 177.1,550.84 177.6,550.95 178.1,551.06 178.6,551.16 179.1,551.25 179.6,551.34 180.1,551.41 180.6,551.48 181.1,551.54 181.6,551.60 182.1,551.64 182.6,551.68 183.1,551.71 183.6,551.74 184.1,551.76 184.6,551.79 185.1,551.81 185.6,551.83 186.1,551.86 186.6,551.88 187.1,551.90 187.6,551.92 188.1,551.94 188.6,551.95 189.1,551.97 189.6,551.99 190.1,552.00 190.6,552.02 191.1,552.03 191.6,552.04 192.1,552.05 192.6,552.06 193.1,552.07 193.6,552.08 194.1,552.08 194.6,552.09 195.1,552.09 195.6,552.10 196.1,552.10 196.6,552.10 197.1,552.10 197.6,552.09 198.1,552.08 198.6,552.07 199.1,552.06 199.6,552.04 200.1,552.02 200.6,552.00 201.1,551.98 201.6,551.95 202.1,551.92 202.6,551.89 203.1,551.86 203.6,551.83 204.1,551.79 204.6,551.76 205.1,551.72 205.6,551.68 206.1,551.64 206.6,551.60 207.1,551.56 207.6,551.51 208.1,551.47 208.6,551.42 209.1,551.38 209.6,551.33 210.1,551.29 210.6,551.24 211.1,551.20 211.6,551.15 212.1,551.11 212.6,551.05 213.1,550.99 213.6,550.93 214.1,550.85 214.6,550.77 215.1,550.69 215.6,550.60 216.1,550.52 216.6,550.43 217.1,550.36 217.6,550.29 218.1,550.23 218.6,550.18 219.1,550.14 219.6,550.12 220.1,550.11 220.6,550.12 221.1,550.15 221.6,550.19 222.1,550.24 222.6,550.30 223.1,550.38 223.6,550.45 224.1,550.53 224.6,550.62 225.1,550.70 225.6,550.79 226.1,550.87 226.6,550.94 227.1,551.01 227.6,551.07 228.1,551.13 228.6,551.19 229.1,551.24 229.6,551.30 230.1,551.35 230.6,551.41 231.1,551.47 231.6,551.52 232.1,551.58 232.6,551.63 233.1,551.68 233.6,551.73 234.1,551.78 234.6,551.83 235.1,551.87 235.6,551.92 236.1,551.95 236.6,551.99 237.1,552.02 237.6,552.04 238.1,552.06 238.6,552.08 239.1,552.09 239.6,552.10 240.1,552.10 240.6,552.11 241.1,552.11 241.6,552.11 242.1,552.12 242.6,552.12 243.1,552.12 243.6,552.13 244.1,552.13 244.6,552.13 245.1,552.14 245.6,552.14 246.1,552.14 246.6,552.14 247.1,552.15 247.6,552.15 248.1,552.15 248.6,552.15 249.1,552.16 249.6,552.16 250.1,552.16 250.6,552.16 251.1,552.16 251.6,552.17 252.1,552.17 252.6,552.17 253.1,552.17 253.6,552.17 254.1,552.18 254.6,552.18 255.1,552.18 255.6,552.18 256.1,552.18 256.6,552.18 257.1,552.18 257.6,552.19 258.1,552.19 258.6,552.19 259.1,552.19 259.6,552.19 260.1,552.19 260.6,552.19 261.1,552.19 261.6,552.19 262.1,552.19 262.6,552.20 263.1,552.20 263.6,552.20 264.1,552.20 264.6,552.20 265.1,552.20 265.6,552.20 266.1,552.20 266.6,552.20 267.1,552.20 267.6,552.20 268.1,552.20 268.6,552.20 269.1,552.20 269.6,552.20 270.1,552.20 270.6,552.20 271.1,552.19 271.6,552.19 272.1,552.18 272.6,552.18 273.1,552.17 273.6,552.16 274.1,552.15 274.6,552.14 275.1,552.12 275.6,552.11 276.1,552.10 276.6,552.08 277.1,552.06 277.6,552.05 278.1,552.03 278.6,552.01 279.1,551.99 279.6,551.97 280.1,551.95 280.6,551.94 281.1,551.92 281.6,551.90 282.1,551.88 282.6,551.86 283.1,551.84 283.6,551.82 284.1,551.80 284.6,551.78 285.1,551.76 285.6,551.75 286.1,551.73 286.6,551.71 287.1,551.70 287.6,551.68 288.1,551.67 288.6,551.66 289.1,551.65 289.6,551.64 290.1,551.63 290.6,551.62 291.1,551.61 291.6,551.61 292.1,551.60 292.6,551.60 293.1,551.60 293.6,551.60 294.1,551.61 294.6,551.61 295.1,551.62 295.6,551.63 296.1,551.64 296.6,551.66 297.1,551.67 297.6,551.69 298.1,551.71 298.6,551.73 299.1,551.75 299.6,551.77 300.1,551.79 300.6,551.81 301.1,551.83 301.6,551.85 302.1,551.88 302.6,551.90 303.1,551.92 303.6,551.94 304.1,551.96 304.6,551.98 305.1,552.00 305.6,552.02 306.1,552.03 306.6,552.05 307.1,552.06 307.6,552.07 308.1,552.08 308.6,552.09 309.1,552.09 309.6,552.10 310.1,552.10 310.6,552.10 311.1,552.10 311.6,552.09 312.1,552.09 312.6,552.08 313.1,552.07 313.6,552.06 314.1,552.05 314.6,552.04 315.1,552.03 315.6,552.02 316.1,552.01 316.6,551.99 317.1,551.98 317.6,551.96 318.1,551.95 318.6,551.93 319.1,551.91 319.6,551.90 320.1,551.88 320.6,551.86 321.1,551.85 321.6,551.83 322.1,551.81 322.6,551.80 323.1,551.78 323.6,551.76 324.1,551.75 324.6,551.73 325.1,551.72 325.6,551.70 326.1,551.69 326.6,551.68 327.1,551.66 327.6,551.65 328.1,551.64 328.6,551.63 329.1,551.62 329.6,551.62 330.1,551.61 330.6,551.61 331.1,551.60 331.6,551.60 332.1,551.60 332.6,551.60 333.1,551.61 333.6,551.61 334.1,551.62 334.6,551.62 335.1,551.63 335.6,551.64 336.1,551.65 336.6,551.67 337.1,551.68 337.6,551.69 338.1,551.71 338.6,551.72 339.1,551.74 339.6,551.75 340.1,551.77 340.6,551.79 341.1,551.80 341.6,551.82 342.1,551.84 342.6,551.85 343.1,551.87 343.6,551.88 344.1,551.90 344.6,551.91 345.1,551.93 345.6,551.94 346.1,551.95 346.6,551.96 347.1,551.97 347.6,551.98 348.1,551.99 348.6,551.99 349.1,552.00 349.6,552.00 350.1,552.00 350.6,552.00 351.1,552.00 351.6,551.99 352.1,551.99 352.6,551.98 353.1,551.97 353.6,551.96 354.1,551.95 354.6,551.94 355.1,551.93 355.6,551.91 356.1,551.90 356.6,551.88 357.1,551.86 357.6,551.85 358.1,551.82 358.6,551.80 359.1,551.78 359.6,551.76 360.1,551.73 360.6,551.71 361.1,551.68 361.6,551.65 362.1,551.62 362.6,551.59 363.1,551.56 363.6,551.53 364.1,551.49 364.6,551.46 365.1,551.42 365.6,551.39 366.1,551.35 366.6,551.31 367.1,551.27 367.6,551.23 368.1,551.18 368.6,551.11 369.1,551.01 369.6,550.90 370.1,550.76 370.6,550.60 371.1,550.43 371.6,550.25 372.1,550.07 372.6,549.89 373.1,549.71 373.6,549.54 374.1,549.38 374.6,549.24 375.1,549.12 375.6,549.02 376.1,548.96 376.6,548.93 377.1,548.93 377.6,548.97 378.1,549.03 378.6,549.13 379.1,549.25 379.6,549.39 380.1,549.55 380.6,549.71 381.1,549.89 381.6,550.07 382.1,550.26 382.6,550.44 383.1,550.61 383.6,550.77 384.1,550.92 384.6,551.05 385.1,551.15 385.6,551.24 386.1,551.30 386.6,551.35 387.1,551.39 387.6,551.44 388.1,551.48 388.6,551.51 389.1,551.55 389.6,551.59 390.1,551.62 390.6,551.66 391.1,551.69 391.6,551.72 392.1,551.75 392.6,551.78 393.1,551.81 393.6,551.83 394.1,551.86 394.6,551.88 395.1,551.90 395.6,551.92 396.1,551.94 396.6,551.95 397.1,551.96 397.6,551.97 398.1,551.98 398.6,551.99 399.1,552.00 399.6,552.00 400.1,552.00 400.6,552.00 401.1,552.00 401.6,552.00 402.1,552.00 402.6,552.00 403.1,552.00 403.6,552.00 404.1,552.00 404.6,552.00 405.1,552.00 405.6,552.00 406.1,552.00 406.6,552.00 407.1,552.00 407.6,552.00 408.1,552.00 408.6,552.00 409.1,552.00 409.6,552.00 410.1,552.00 410.6,552.00 411.1,552.00 411.6,552.00 412.1,552.00 412.6,552.00 413.1,552.00 413.6,552.00 414.1,552.00 414.6,552.00 415.1,552.00 415.6,552.00 416.1,552.00 416.6,552.00 417.1,552.00 417.6,552.00 418.1,552.00 418.6,552.00 419.1,552.00 419.6,552.00 420.1,552.00 420.6,551.99 421.1,551.99 421.6,551.98 422.1,551.96 422.6,551.95 423.1,551.92 423.6,551.90 424.1,551.87 424.6,551.85 425.1,551.81 425.6,551.78 426.1,551.75 426.6,551.71 427.1,551.67 427.6,551.63 428.1,551.59 428.6,551.55 429.1,551.50 429.6,551.46 430.1,551.42 430.6,551.37 431.1,551.32 431.6,551.26 432.1,551.21 432.6,551.14 433.1,551.07 433.6,551.00 434.1,550.92 434.6,550.84 435.1,550.75 435.6,550.66 436.1,550.57 436.6,550.47 437.1,550.37 437.6,550.26 438.1,550.15 438.6,550.04 439.1,549.93 439.6,549.81 440.1,549.69 440.6,549.57 441.1,549.44 441.6,549.30 442.1,549.16 442.6,549.00 443.1,548.84 443.6,548.67 444.1,548.49 444.6,548.30 445.1,548.11 445.6,547.91 446.1,547.70 446.6,547.48 447.1,547.26 447.6,547.03 448.1,546.79 448.6,546.54 449.1,546.29 449.6,546.02 450.1,545.74 450.6,545.45 451.1,545.14 451.6,544.82 452.1,544.48 452.6,544.13 453.1,543.76 453.6,543.37 454.1,542.97 454.6,542.55 455.1,542.12 455.6,541.66 456.1,541.19 456.6,540.67 457.1,540.13 457.6,539.54 458.1,538.91 458.6,538.25 459.1,537.55 459.6,536.81 460.1,536.05 460.6,535.24 461.1,534.39 461.6,533.49 462.1,532.52 462.6,531.48 463.1,530.38 463.6,529.22 464.1,527.99 464.6,526.70 465.1,525.35 465.6,523.91 466.1,522.38 466.6,520.76 467.1,519.04 467.6,517.24 468.1,515.36 468.6,513.39 469.1,511.33 469.6,509.13 470.1,506.79 470.6,504.32 471.1,501.76 471.6,499.18 472.1,496.61 472.6,494.04 473.1,491.49 473.6,489.05 474.1,486.80 474.6,484.81 475.1,483.07 475.6,481.63 476.1,480.52 476.6,479.76 477.1,479.27 477.6,478.94 478.1,478.77 478.6,478.77 479.1,478.98 479.6,479.37 480.1,479.87 480.6,480.43 481.1,481.02 481.6,481.66 482.1,482.34 482.6,483.03 483.1,483.72 483.6,484.39 484.1,485.05 484.6,485.71 485.1,486.35 485.6,486.95 486.1,487.50 486.6,487.98 487.1,488.40 487.6,488.78 488.1,489.09 488.6,489.31 489.1,489.40 489.6,489.35 490.1,489.18 490.6,488.93 491.1,488.60 491.6,488.21 492.1,487.75 492.6,487.18 493.1,486.49 493.6,485.69 494.1,484.81 494.6,483.85 495.1,482.81 495.6,481.65 496.1,480.38 496.6,479.00 497.1,477.54 497.6,476.01 498.1,474.42 498.6,472.77 499.1,471.05 499.6,469.24 500.1,467.35 500.6,465.38 501.1,463.32 501.6,461.17 502.1,458.93 502.6,456.59 503.1,454.15 503.6,451.62 504.1,449.01 504.6,446.30 505.1,443.50 505.6,440.59 506.1,437.56 506.6,434.41 507.1,431.13 507.6,427.71 508.1,424.14 508.6,420.42 509.1,416.54 509.6,412.49 510.1,408.26 510.6,403.80 511.1,399.05 511.6,394.02 512.1,388.87 512.6,383.82 513.1,379.03 513.6,374.51 514.1,370.13 514.6,365.74 515.1,361.25 515.6,356.64 516.1,352.01 516.6,347.47 517.1,343.11 517.6,338.97 518.1,335.14 518.6,331.69 519.1,328.76 519.6,326.45 520.1,324.94 520.6,324.31 521.1,324.62 521.6,325.87 522.1,328.07 522.6,331.21 523.1,335.17 523.6,339.76 524.1,344.73 524.6,349.90 525.1,355.20 525.6,360.66 526.1,366.34 526.6,372.26 527.1,378.37 527.6,384.51 528.1,390.53 528.6,396.32 529.1,401.88 529.6,407.22 530.1,412.36 530.6,417.27 531.1,421.98 531.6,426.50 532.1,430.84 532.6,435.00 533.1,439.03 533.6,443.07 534.1,447.19 534.6,451.20 535.1,454.68 535.6,457.41 536.1,459.47 536.6,461.07 537.1,462.40 537.6,463.53 538.1,464.52 538.6,465.42 539.1,466.21 539.6,466.84 540.1,467.25 540.6,467.39 541.1,467.23 541.6,466.80 542.1,466.16 542.6,465.34 543.1,464.35 543.6,463.14 544.1,461.65 544.6,459.89 545.1,457.94 545.6,455.87 546.1,453.70 546.6,451.41 547.1,449.01 547.6,446.48 548.1,443.85 548.6,441.12 549.1,438.34 549.6,435.58 550.1,432.87 550.6,430.26 551.1,427.84 551.6,425.69 552.1,423.89 552.6,422.47 553.1,421.43 553.6,420.77 554.1,420.51 554.6,420.65 555.1,421.24 555.6,422.37 556.1,424.09 556.6,426.38 557.1,429.11 557.6,432.14 558.1,435.38 558.6,438.79 559.1,442.50 559.6,446.56 560.1,450.88 560.6,455.12 561.1,459.06 561.6,462.66 562.1,466.04 562.6,469.28 563.1,472.43 563.6,475.49 564.1,478.46 564.6,481.33 565.1,484.13 565.6,486.86 566.1,489.55 566.6,492.16 567.1,494.64 567.6,496.98 568.1,499.15 568.6,501.17 569.1,503.05 569.6,504.75 570.1,506.27 570.6,507.59 571.1,508.75 571.6,509.77 572.1,510.64 572.6,511.36 573.1,511.93 573.6,512.38 574.1,512.70 574.6,512.85 575.1,512.82 575.6,512.61 576.1,512.27 576.6,511.78 577.1,511.09 577.6,510.17 578.1,509.02 578.6,507.69 579.1,506.23 579.6,504.66 580.1,502.93 580.6,501.04 581.1,498.96 581.6,496.69 582.1,494.17 582.6,491.39 583.1,488.37 583.6,485.21 584.1,481.97 584.6,478.69 585.1,475.36 585.6,472.01 586.1,468.73 586.6,465.57 587.1,462.54 587.6,459.69 588.1,457.20 588.6,455.23 589.1,453.86 589.6,452.99 590.1,452.58 590.6,452.59 591.1,453.02 591.6,453.89 592.1,455.30 592.6,457.38 593.1,460.12 593.6,463.46 594.1,467.32 594.6,471.61 595.1,476.09 595.6,480.52 596.1,484.79 596.6,488.89 597.1,492.82 597.6,496.56 598.1,500.06 598.6,503.31 599.1,506.34 599.6,509.17 600.1,511.79 600.6,514.22 601.1,516.47 601.6,518.57 602.1,520.56 602.6,522.44 603.1,524.21 603.6,525.88 604.1,527.46 604.6,528.94 605.1,530.36 605.6,531.71 606.1,533.00 606.6,534.21 607.1,535.33 607.6,536.35 608.1,537.27 608.6,538.11 609.1,538.88 609.6,539.61 610.1,540.29 610.6,540.93 611.1,541.53 611.6,542.10 612.1,542.63 612.6,543.13 613.1,543.60 613.6,544.05 614.1,544.48 614.6,544.90 615.1,545.30 615.6,545.68 616.1,546.05 616.6,546.40 617.1,546.73 617.6,547.04 618.1,547.34 618.6,547.61 619.1,547.86 619.6,548.09 620.1,548.31 620.6,548.51 621.1,548.71 621.6,548.89 622.1,549.07 622.6,549.24 623.1,549.40 623.6,549.54 624.1,549.68 624.6,549.81 625.1,549.93 625.6,550.03 626.1,550.13 626.6,550.23 627.1,550.32 627.6,550.41 628.1,550.49 628.6,550.57 629.1,550.65 629.6,550.73 630.1,550.80 630.6,550.87 631.1,550.94 631.6,551.00 632.1,551.06 632.6,551.12 633.1,551.17 633.6,551.22 634.1,551.26 634.6,551.30 635.1,551.34 635.6,551.37 636.1,551.40 636.6,551.43 637.1,551.46 637.6,551.48 638.1,551.51 638.6,551.53 639.1,551.55 639.6,551.57 640.1,551.59 640.6,551.61 641.1,551.63 641.6,551.65 642.1,551.67 642.6,551.68 643.1,551.70 643.6,551.72 644.1,551.73 644.6,551.75 645.1,551.76 645.6,551.77 646.1,551.79 646.6,551.80 647.1,551.81 647.6,551.82 648.1,551.84 648.6,551.85 649.1,551.86 649.6,551.87 650.1,551.88 650.6,551.89 651.1,551.90 651.6,551.91 652.1,551.92 652.6,551.93 653.1,551.94 653.6,551.95 654.1,551.96 654.6,551.97 655.1,551.98 655.6,551.99 656.1,551.99 656.6,552.00 657.1,552.01 657.6,552.02 658.1,552.03 658.6,552.03 659.1,552.04 659.6,552.05 660.1,552.05 660.6,552.06 661.1,552.07 661.6,552.07 662.1,552.08 662.6,552.08 663.1,552.09 663.6,552.09 664.1,552.09 664.6,552.10 665.1,552.10 665.6,552.10 666.1,552.11 666.6,552.11 667.1,552.11 667.6,552.11 668.1,552.12 668.6,552.12 669.1,552.12 669.6,552.12 670.1,552.12 670.6,552.13 671.1,552.13 671.6,552.13 672.1,552.13 672.6,552.14 673.1,552.14 673.6,552.14 674.1,552.14 674.6,552.14 675.1,552.15 675.6,552.15 676.1,552.15 676.6,552.15 677.1,552.15 677.6,552.15 678.1,552.16 678.6,552.16 679.1,552.16 679.6,552.16 680.1,552.16 680.6,552.16 681.1,552.16 681.6,552.17 682.1,552.17 682.6,552.17 683.1,552.17 683.6,552.17 684.1,552.17 684.6,552.17 685.1,552.18 685.6,552.18 686.1,552.18 686.6,552.18 687.1,552.18 687.6,552.18 688.1,552.18 688.6,552.18 689.1,552.18 689.6,552.19 690.1,552.19 690.6,552.19 691.1,552.19 691.6,552.19 692.1,552.19 692.6,552.19 693.1,552.19 693.6,552.19 694.1,552.19 694.6,552.19 695.1,552.19 695.6,552.19 696.1,552.20 696.6,552.20 697.1,552.20 697.6,552.20 698.1,552.20 698.6,552.20 699.1,552.20 699.6,552.20 700.1,552.20 700.6,552.20 701.1,552.20 701.6,552.20 702.1,552.20 702.6,552.20 703.1,552.20 703.6,552.20 704.1,552.20 704.6,552.20 705.1,552.20 705.6,552.21 706.1,552.21 706.6,552.21 707.1,552.21 707.6,552.21 708.1,552.21 708.6,552.21 709.1,552.21 709.6,552.21 710.1,552.21 710.6,552.21 711.1,552.21 711.6,552.21 712.1,552.21 712.6,552.21 713.1,552.21 713.6,552.21 714.1,552.21 714.6,552.21 715.1,552.21 715.6,552.21 716.1,552.21 716.6,552.21 717.1,552.21 717.6,552.21 718.1,552.22 718.6,552.22 719.1,552.22 719.6,552.22 720.1,552.22 720.6,552.22 721.1,552.22 721.6,552.22 722.1,552.22 722.6,552.22 723.1,552.22 723.6,552.22 724.1,552.22 724.6,552.22 725.1,552.22 725.6,552.22 726.1,552.22 726.6,552.22 727.1,552.22 727.6,552.22 728.1,552.22 728.6,552.22 729.1,552.22 729.6,552.22 730.1,552.22 730.6,552.22 731.1,552.22 731.6,552.22 732.1,552.22 732.6,552.22 733.1,552.22 733.6,552.22 734.1,552.23 734.6,552.23 735.1,552.23 735.6,552.23 736.1,552.23 736.6,552.23 737.1,552.23 737.6,552.23 738.1,552.23 738.6,552.23 739.1,552.23 739.6,552.23 740.1,552.23 740.6,552.23 741.1,552.23 741.6,552.23 742.1,552.23 742.6,552.23 743.1,552.23 743.6,552.23 744.1,552.23 744.6,552.23 745.1,552.23 745.6,552.23 746.1,552.23 746.6,552.23 747.1,552.23 747.6,552.23 748.1,552.23 748.6,552.23 749.1,552.23 749.6,552.23 750.1,552.23 750.6,552.23 751.1,552.23 751.6,552.23 752.1,552.23 752.6,552.23 753.1,552.23 753.6,552.23 754.1,552.23 754.6,552.23 755.1,552.24 755.6,552.24 756.1,552.24 756.6,552.24 757.1,552.24 757.6,552.24 758.1,552.24 758.6,552.24 759.1,552.24 759.6,552.24 760.1,552.24 760.6,552.24 761.1,552.24 761.6,552.24 762.1,552.24 762.6,552.24 763.1,552.24 763.6,552.24 764.1,552.24 764.6,552.24 765.1,552.24 765.6,552.24 766.1,552.24 766.6,552.24 767.1,552.24 767.6,552.24 768.1,552.24 768.6,552.24 769.1,552.24 769.6,552.24 770.1,552.24 770.6,552.24 771.1,552.24 771.6,552.24 772.1,552.24 772.6,552.24 773.1,552.24 773.6,552.24 774.1,552.24 774.6,552.24 775.1,552.24 775.6,552.24 776.1,552.24 776.6,552.24 777.1,552.24 777.6,552.24 778.1,552.24 778.6,552.24 779.1,552.24 779.6,552.24 780.1,552.24 780.6,552.24 781.1,552.24 781.6,552.24 782.1,552.24 782.6,552.24 783.1,552.24 783.6,552.24 784.1,552.24 784.6,552.25 785.1,552.25 785.6,552.25 786.1,552.25 786.6,552.25 787.1,552.25 787.6,552.25 788.1,552.25 788.6,552.25 789.1,552.25 789.6,552.25 790.1,552.25 790.6,552.25 791.1,552.25 791.6,552.25 792.1,552.25 792.6,552.25 793.1,552.25 793.6,552.25 794.1,552.25 794.6,552.25 795.1,552.25 795.6,552.25 796.1,552.25 796.6,552.25 797.1,552.25 797.6,552.25 798.1,552.25 798.6,552.25 799.1,552.25 799.6,552.25 800.1,552.25 800.6,552.25 801.1,552.25 801.6,552.25 802.1,552.25 802.6,552.25 803.1,552.25 803.6,552.25 804.1,552.25 804.6,552.25 805.1,552.25 805.6,552.25 806.1,552.25 806.6,552.25 807.1,552.25 807.6,552.25 808.1,552.25 808.6,552.25 809.1,552.25 809.6,552.25 810.1,552.25 810.6,552.25 811.1,552.25 811.6,552.25 812.1,552.25 812.6,552.25 813.1,552.25 813.6,552.25 814.1,552.25 814.6,552.25 815.1,552.25 815.6,552.26 816.1,552.26 816.6,552.26 817.1,552.26 817.6,552.26 818.1,552.26 818.6,552.26 819.1,552.26 819.6,552.26 820.1,552.26 820.6,552.26 821.1,552.26 821.6,552.26 822.1,552.26 822.6,552.26 823.1,552.26 823.6,552.26 824.1,552.26 824.6,552.26 825.1,552.26 825.6,552.26 826.1,552.26 826.6,552.26 827.1,552.26 827.6,552.26 828.1,552.26 828.6,552.26 829.1,552.26 829.6,552.26 830.1,552.26 830.6,552.26 831.1,552.26 831.6,552.26 832.1,552.26 832.6,552.26 833.1,552.26 833.6,552.26 834.1,552.26 834.6,552.26 835.1,552.26 835.6,552.26 836.1,552.26 836.6,552.26 837.1,552.26 837.6,552.26 838.1,552.26 838.6,552.26 839.1,552.26 839.6,552.26 840.1,552.26 840.6,552.26 841.1,552.26 841.6,552.26 842.1,552.26 842.6,552.26 843.1,552.26 843.6,552.26 844.1,552.26 844.6,552.26 845.1,552.26 845.6,552.26 846.1,552.26 846.6,552.26 847.1,552.27 847.6,552.27 848.1,552.27 848.6,552.27 849.1,552.27 849.6,552.27 850.1,552.27 850.6,552.27 851.1,552.27 851.6,552.27 852.1,552.27 852.6,552.27 853.1,552.27 853.6,552.27 854.1,552.27 854.6,552.27 855.1,552.27 855.6,552.27 856.1,552.27 856.6,552.27 857.1,552.27 857.6,552.27 858.1,552.27 858.6,552.27 859.1,552.27 859.6,552.27 860.1,552.27 860.6,552.27 861.1,552.27 861.6,552.27 862.1,552.27 862.6,552.27 863.1,552.27 863.6,552.27 864.1,552.27 864.6,552.27 865.1,552.27 865.6,552.27 866.1,552.27 866.6,552.27 867.1,552.27 867.6,552.27 868.1,552.27 868.6,552.27 869.1,552.27 869.6,552.27 870.1,552.27 870.6,552.27 871.1,552.27 871.6,552.27 872.1,552.27 872.6,552.27 873.1,552.27 873.6,552.27 874.1,552.27 874.6,552.27 875.1,552.27 875.6,552.27 876.1,552.27 876.6,552.27 877.1,552.27 877.6,552.27 878.1,552.27 878.6,552.27 879.1,552.27 879.6,552.27 880.1,552.27 880.6,552.28 881.1,552.28 881.6,552.28 882.1,552.28 882.6,552.28 883.1,552.28 883.6,552.28 884.1,552.28 884.6,552.28 885.1,552.28 885.6,552.28 886.1,552.28 886.6,552.28 887.1,552.28 887.6,552.28 888.1,552.28 888.6,552.28 889.1,552.28 889.6,552.28 890.1,552.28 890.6,552.28 891.1,552.28 891.6,552.28 892.1,552.28 892.6,552.28 893.1,552.28 893.6,552.28 894.1,552.28 894.6,552.28 895.1,552.28 895.6,552.28 896.1,552.28 896.6,552.28 897.1,552.28 897.6,552.28 898.1,552.28 898.6,552.28 899.1,552.28 899.6,552.28 900.1,552.28 900.6,552.28 901.1,552.28 901.6,552.28 902.1,552.28 902.6,552.28 903.1,552.28 903.6,552.28 904.1,552.28 904.6,552.28 905.1,552.28 905.6,552.28 906.1,552.28 906.6,552.28 907.1,552.28 907.6,552.28 908.1,552.28 908.6,552.28 909.1,552.28 909.6,552.28 910.1,552.28 910.6,552.28 911.1,552.28 911.6,552.28 912.1,552.28 912.6,552.28 913.1,552.28 913.6,552.28 914.1,552.28 914.6,552.28 915.1,552.28 915.6,552.28 916.1,552.28 916.6,552.28 917.1,552.28 917.6,552.28 918.1,552.28 918.6,552.28 919.1,552.29 919.6,552.29 920.1,552.29 920.6,552.29 921.1,552.29 921.6,552.29 922.1,552.29 922.6,552.29 923.1,552.29 923.6,552.29 924.1,552.29 924.6,552.29 925.1,552.29 925.6,552.29 926.1,552.29 926.6,552.29 927.1,552.29 927.6,552.29 928.1,552.29 928.6,552.29 929.1,552.29 929.6,552.29 930.1,552.29 930.6,552.29 931.1,552.29 931.6,552.29 932.1,552.29 932.6,552.29 933.1,552.29 933.6,552.29 934.1,552.29 934.6,552.29 935.1,552.29 935.6,552.29 936.1,552.29 936.6,552.29 937.1,552.29 937.6,552.29 938.1,552.29 938.6,552.29 939.1,552.29 939.6,552.29 940.1,552.29 940.6,552.29 941.1,552.29 941.6,552.29 942.1,552.29 942.6,552.29 943.1,552.29 943.6,552.29 944.1,552.29 944.6,552.29 945.1,552.29 945.6,552.29 946.1,552.29 946.6,552.29 947.1,552.29 947.6,552.29 948.1,552.29 948.6,552.29 949.1,552.29 949.6,552.29 950.1,552.29 950.6,552.29 951.1,552.29 951.6,552.29 952.1,552.29 952.6,552.29 953.1,552.29 953.6,552.29 954.1,552.29 954.6,552.29 955.1,552.29 955.6,552.29 956.1,552.29 956.6,552.29 957.1,552.29 957.6,552.29 958.1,552.29 958.6,552.29 959.1,552.29 959.6,552.29 960.1,552.29 960.6,552.29 961.1,552.29 961.6,552.29 962.1,552.29 962.6,552.29 963.1,552.29 963.6,552.29 964.1,552.29 964.6,552.29 965.1,552.29 965.6,552.29 966.1,552.29 966.6,552.29 967.1,552.29 967.6,552.29 968.1,552.29 968.6,552.29 969.1,552.29 969.6,552.30 970.1,552.30 970.6,552.30 971.1,552.30 971.6,552.30 972.1,552.30 972.6,552.30 973.1,552.30 973.6,552.30 974.1,552.30 974.6,552.30 975.1,552.30 975.6,552.30 976.1,552.30 976.6,552.30 977.1,552.30 977.6,552.30 978.1,552.30 978.6,552.30 979.1,552.30 979.6,552.30 980.1,552.30 980.6,552.30 981.1,552.30 981.6,552.30 982.1,552.30 982.6,552.30 983.1,552.30 983.6,552.30 984.1,552.30 984.6,552.30 985.1,552.30 985.6,552.30 986.1,552.30 986.6,552.30 987.1,552.30 987.6,552.30 988.1,552.30 988.6,552.30 989.1,552.30 989.6,552.30 990.1,552.30 990.6,552.30 991.1,552.30 991.6,552.30 992.1,552.30 992.6,552.30 993.1,552.30 993.6,552.30 994.1,552.30 994.6,552.30 995.1,552.30 995.6,552.30 996.1,552.30 996.6,552.30 997.1,552.30 997.6,552.30 998.1,552.30 998.6,552.30 999.1,552.30 999.6,552.30 1000.1,552.30 1000.6,552.30 1001.1,552.30 1001.6,552.30 1002.1,552.30 1002.6,552.30 1003.1,552.30 1003.6,552.30 1004.1,552.30 1004.6,552.30 1005.1,552.30 1005.6,552.30 1006.1,552.30 1006.6,552.30 1007.1,552.30 1007.6,552.30 1008.1,552.30 1008.6,552.30 1009.1,552.30 1009.6,552.30 1010.1,552.30 1010.6,552.30 1011.1,552.30 1011.6,552.30 1012.1,552.30 1012.6,552.30 1013.1,552.30 1013.6,552.30 1014.1,552.30 1014.6,552.30 1015.1,552.30 1015.6,552.30 1016.1,552.30 1016.6,552.30 1017.1,552.30 1017.6,552.30 1018.1,552.30 1018.6,552.30 1019.1,552.30 1019.6,552.30 1020.1,552.30 1020.6,552.30" fill="none" stroke="#0072BD" stroke-width="1.75" stroke-linejoin="round"/>
<path d="M64.40,323.45V552.4M151.20,323.45V552.4M256.30,323.45V552.4M488.70,323.45V552.4M541.00,323.45V552.4M574.30,323.45V552.4M1020.90,323.45V552.4" stroke="#FF00FF" stroke-width="2.6" stroke-dasharray="12.3 7.38" fill="none"/>
<circle cx="64.15" cy="323.45" r="3.25" fill="none" stroke="#FF00FF" stroke-width="2.25"/>
<circle cx="64.15" cy="552.4" r="3.25" fill="none" stroke="#FF00FF" stroke-width="2.25"/>
<circle cx="151.20" cy="323.45" r="3.25" fill="none" stroke="#FF00FF" stroke-width="2.25"/>
<circle cx="151.20" cy="552.4" r="3.25" fill="none" stroke="#FF00FF" stroke-width="2.25"/>
<circle cx="256.30" cy="323.45" r="3.25" fill="none" stroke="#FF00FF" stroke-width="2.25"/>
<circle cx="256.30" cy="552.4" r="3.25" fill="none" stroke="#FF00FF" stroke-width="2.25"/>
<circle cx="488.70" cy="323.45" r="3.25" fill="none" stroke="#FF00FF" stroke-width="2.25"/>
<circle cx="488.70" cy="552.4" r="3.25" fill="none" stroke="#FF00FF" stroke-width="2.25"/>
<circle cx="541.00" cy="323.45" r="3.25" fill="none" stroke="#FF00FF" stroke-width="2.25"/>
<circle cx="541.00" cy="552.4" r="3.25" fill="none" stroke="#FF00FF" stroke-width="2.25"/>
<circle cx="574.30" cy="323.45" r="3.25" fill="none" stroke="#FF00FF" stroke-width="2.25"/>
<circle cx="574.30" cy="552.4" r="3.25" fill="none" stroke="#FF00FF" stroke-width="2.25"/>
<circle cx="1020.90" cy="323.45" r="3.25" fill="none" stroke="#FF00FF" stroke-width="2.25"/>
<circle cx="1020.90" cy="552.4" r="3.25" fill="none" stroke="#FF00FF" stroke-width="2.25"/>
<text transform="translate(63.6,581) scale(0.941,1)" font-family="'Liberation Sans', sans-serif" font-size="19.7" fill="#1c1c1c" stroke="#1c1c1c" stroke-width="0.3">0</text>
<text transform="translate(209.0,581) scale(0.941,1)" font-family="'Liberation Sans', sans-serif" font-size="19.7" fill="#1c1c1c" stroke="#1c1c1c" stroke-width="0.3">0.5</text>
<text transform="translate(368.8,581) scale(0.941,1)" font-family="'Liberation Sans', sans-serif" font-size="19.7" fill="#1c1c1c" stroke="#1c1c1c" stroke-width="0.3">1</text>
<text transform="translate(514.85,581) scale(0.941,1)" font-family="'Liberation Sans', sans-serif" font-size="19.7" fill="#1c1c1c" stroke="#1c1c1c" stroke-width="0.3">1.5</text>
<text transform="translate(672.9,581) scale(0.941,1)" font-family="'Liberation Sans', sans-serif" font-size="19.7" fill="#1c1c1c" stroke="#1c1c1c" stroke-width="0.3">2</text>
<text transform="translate(820.0,581) scale(0.941,1)" font-family="'Liberation Sans', sans-serif" font-size="19.7" fill="#1c1c1c" stroke="#1c1c1c" stroke-width="0.3">2.5</text>
<text transform="translate(978.4,581) scale(0.941,1)" font-family="'Liberation Sans', sans-serif" font-size="19.7" fill="#1c1c1c" stroke="#1c1c1c" stroke-width="0.3">3</text>
<text transform="translate(61.10,563) scale(0.941,1)" text-anchor="end" font-family="'Liberation Sans', sans-serif" font-size="19.7" fill="#1c1c1c" stroke="#1c1c1c" stroke-width="0.3">0</text>
<text transform="translate(62.80,517) scale(0.941,1)" text-anchor="end" font-family="'Liberation Sans', sans-serif" font-size="19.7" fill="#1c1c1c" stroke="#1c1c1c" stroke-width="0.3">0.2</text>
<text transform="translate(62.80,471) scale(0.941,1)" text-anchor="end" font-family="'Liberation Sans', sans-serif" font-size="19.7" fill="#1c1c1c" stroke="#1c1c1c" stroke-width="0.3">0.4</text>
<text transform="translate(62.80,425) scale(0.941,1)" text-anchor="end" font-family="'Liberation Sans', sans-serif" font-size="19.7" fill="#1c1c1c" stroke="#1c1c1c" stroke-width="0.3">0.6</text>
<text transform="translate(62.80,379) scale(0.941,1)" text-anchor="end" font-family="'Liberation Sans', sans-serif" font-size="19.7" fill="#1c1c1c" stroke="#1c1c1c" stroke-width="0.3">0.8</text>
<text transform="translate(61.10,333) scale(0.941,1)" text-anchor="end" font-family="'Liberation Sans', sans-serif" font-size="19.7" fill="#1c1c1c" stroke="#1c1c1c" stroke-width="0.3">1</text>
<text x="451.2" y="284.0" font-family="'Liberation Serif', serif" font-size="24.5" fill="#1c1c1c" stroke="#1c1c1c" stroke-width="0.25">Frequency<tspan font-size="20.57">(Hz)</tspan></text>
<text x="520.3" y="310" text-anchor="middle" font-family="'Liberation Serif', serif" font-size="24.5" font-weight="bold" fill="#000">(a)</text>
<text x="451.2" y="607.3" font-family="'Liberation Serif', serif" font-size="24.5" fill="#1c1c1c" stroke="#1c1c1c" stroke-width="0.25">Frequency<tspan font-size="20.57">(Hz)</tspan></text>
<text x="518.7" y="629" text-anchor="middle" font-family="'Liberation Serif', serif" font-size="24.6" font-weight="bold" fill="#000">(b)</text>
<text transform="translate(17.3,200.7) rotate(-90)" font-family="'Liberation Serif', serif" font-size="24.6" fill="#1c1c1c" stroke="#1c1c1c" stroke-width="0.25">Fourier Spectrum</text>
<text transform="translate(24.0,543.2) rotate(-90)" font-family="'Liberation Serif', serif" font-size="24.6" fill="#1c1c1c" stroke="#1c1c1c" stroke-width="0.25">SAR<tspan dx="-2.4"> </tspan>Power<tspan dx="1.1"> </tspan><tspan letter-spacing="0.17">Spectrum</tspan></text>
</svg>
</body></html>
